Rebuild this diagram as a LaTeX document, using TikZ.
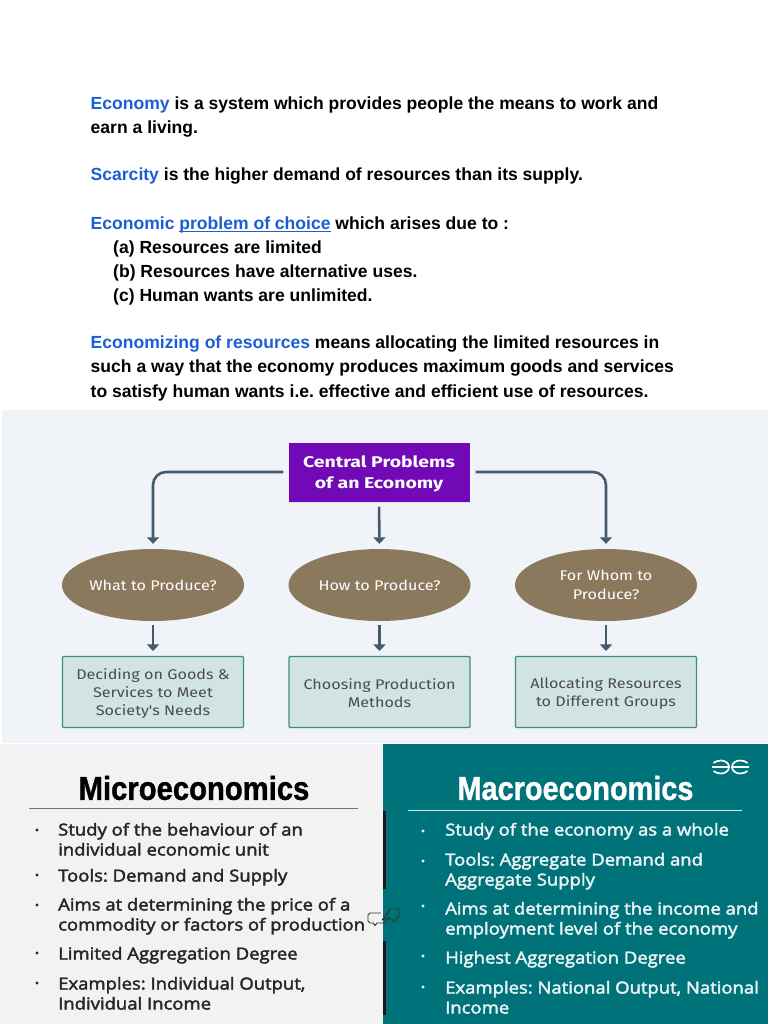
\documentclass[tikz,border=0pt]{standalone}
\usepackage{fontspec}
\usetikzlibrary{shapes.geometric,arrows.meta,shadows}
\setmainfont{Liberation Sans}
\newfontfamily\din[FakeStretch=1.155]{Fira Sans}
\newfontfamily\dinb[FakeStretch=1.255]{Fira Sans}
\newfontfamily\clear[FakeBold=2.5,FakeStretch=1.12]{Open Sans}
\newfontfamily\heavy[BoldFeatures={FakeBold=1.2}]{Liberation Sans}
\newcommand\lineunder[1]{\setbox0\hbox{#1}\rlap{\rule[-2.2pt]{\wd0}{1pt}}\box0}
\AtBeginDocument{\frenchspacing}
\definecolor{linkblue}{HTML}{1C5FD4}
\definecolor{diagbg}{HTML}{F0F3F7}
\definecolor{rootpurple}{HTML}{7209B7}
\definecolor{ovalbrown}{HTML}{8B795E}
\definecolor{boxfill}{HTML}{D2E4E1}
\definecolor{boxline}{HTML}{3A8F7D}
\definecolor{arrowslate}{HTML}{455A6B}
\definecolor{leftbg}{HTML}{F2F2F2}
\definecolor{teal}{HTML}{00737A}
\tikzset{
 body/.style={anchor=base west,inner sep=0,font=\fontsize{17.55}{18}\selectfont\bfseries,text=black},
 rootbox/.style={rectangle,fill=rootpurple,minimum width=181pt,minimum height=59pt,inner sep=0,align=center,text=white,font=\dinb\fontsize{15.5}{21}\selectfont\bfseries},
 oval/.style={ellipse,fill=ovalbrown,minimum width=182pt,minimum height=72pt,inner sep=0,align=center,text=white,font=\din\fontsize{14}{18.5}\selectfont},
 leaf/.style={rectangle,rounded corners=1pt,draw=boxline,line width=1.1pt,fill=boxfill,minimum width=181pt,minimum height=71pt,inner sep=0,align=center,text=black!70,font=\din\fontsize{14}{18}\selectfont},
 flow/.style={draw=arrowslate,line width=2.6pt,-{Triangle[length=6.5pt,width=12pt]},rounded corners=13pt},
 lefttxt/.style={anchor=base west,inner sep=0,text=black!85,font=\clear\fontsize{16.5}{18}\selectfont},
 righttxt/.style={anchor=base west,inner sep=0,text=white!92!teal,font=\clear\fontsize{16.5}{18}\selectfont},
 ltitle/.style={inner sep=0,font=\heavy\fontsize{33}{36}\selectfont\bfseries,text=black,xscale=.886},
 rtitle/.style={inner sep=0,font=\heavy\fontsize{33}{36}\selectfont\bfseries,text=white,xscale=.875},
}
\begin{document}
\begin{tikzpicture}[x=1pt,y=-1pt]
\useasboundingbox (0,0) rectangle (768,1024);
\fill[white] (0,0) rectangle (768,1024);
% top text
\node[body] (t1) at (90.5,109.7) {\textcolor{linkblue}{Economy} is a system which provides people the means to work and};
\node[body] (t2) at (90.5,133.5) {earn a living.};
\node[body] (t3) at (90.5,181) {\textcolor{linkblue}{Scarcity} is the higher demand of resources than its supply.};
\node[body] (t4) at (90.5,229.5) {\textcolor{linkblue}{Economic \lineunder{problem of choice}} which arises due to :};
\node[body] (t5) at (113,253) {(a) Resources are limited};
\node[body] (t6) at (113,277) {(b) Resources have alternative uses.};
\node[body] (t7) at (113,301) {(c) Human wants are unlimited.};
\node[body] (t8) at (90.5,348.5) {\textcolor{linkblue}{Economizing of resources} means allocating the limited resources in};
\node[body] (t9) at (90.5,372.5) {such a way that the economy produces maximum goods and services};
\node[body] (t10) at (90.5,397) {to satisfy human wants i.e. effective and efficient use of resources.};
% diagram
\fill[diagbg] (2,410) rectangle (768,743);
\node[rootbox,drop shadow={opacity=.15,shadow xshift=0pt,shadow yshift=-1pt}] (root) at (379,472) {\rule{0pt}{15pt}Central Problems\\of an Economy};
\node[oval] (e1) at (153,585) {What to Produce?};
\node[oval] (e2) at (379.5,585) {How to Produce?};
\node[oval] (e3) at (606,585) {For Whom to\\Produce?};
\node[leaf] (b1) at (153,692) {\rule{0pt}{13pt}Deciding on Goods \&\\Services to Meet\\Society's Needs};
\node[leaf] (b2) at (379.5,692) {\rule{0pt}{13pt}Choosing Production\\Methods};
\node[leaf] (b3) at (606,692) {\rule{0pt}{13pt}Allocating Resources\\to Different Groups};
\draw[flow,shorten <=5pt,shorten >=5pt] (root.west) -| (e1.north);
\draw[flow,shorten <=6pt,shorten >=5pt] (root.east) -| (e3.north);
\draw[flow,shorten <=5pt,shorten >=5pt] (root.south) -- (e2.north);
\draw[flow,shorten <=4pt,shorten >=5pt] (e1) -- (b1);
\draw[flow,shorten <=4pt,shorten >=5pt] (e2) -- (b2);
\draw[flow,shorten <=4pt,shorten >=5pt] (e3) -- (b3);
% bottom panels
\fill[leftbg] (0,744) rectangle (383,1024);
\fill[teal] (383,744) rectangle (768,1024);
\fill[black!90] (383,811) rectangle (386,889);
\fill[black!90] (383,941) rectangle (386,1015);
\node[ltitle] (lt) at (194,788) {Microeconomics};
\node[rtitle] (rt) at (575.5,788) {Macroeconomics};
\draw[black!55,line width=1pt] (29,808) -- (358,808);
\draw[white!85!teal,line width=1pt] (408,810) -- (742,810);
\foreach \y in {830,875,905,953,983} \fill[black!85] (37,\y) circle (1.7);
\foreach \y in {831,861,906,956,987} \fill[white] (423,\y) circle (1.7);
\node[lefttxt] (l1) at (58,835.5) {Study of the behaviour of an};
\node[lefttxt] (l2) at (58,855.5) {individual economic unit};
\node[lefttxt] (l3) at (58,881.5) {Tools: Demand and Supply};
\node[lefttxt] (l4) at (58,910.5) {Aims at determining the price of a};
\node[lefttxt] (l5) at (58,930.5) {commodity or factors of production};
\node[lefttxt] (l6) at (58,959.5) {Limited Aggregation Degree};
\node[lefttxt] (l7) at (58,989.5) {Examples: Individual Output,};
\node[lefttxt] (l8) at (58,1009.5) {Individual Income};
\node[righttxt] (r1) at (445,835.5) {Study of the economy as a whole};
\node[righttxt] (r2) at (445,865.5) {Tools: Aggregate Demand and};
\node[righttxt] (r3) at (445,885.5) {Aggregate Supply};
\node[righttxt] (r4) at (445,914.5) {Aims at determining the income and};
\node[righttxt] (r5) at (445,934.5) {employment level of the economy};
\node[righttxt] (r6) at (445,963.5) {Highest Aggregation Degree};
\node[righttxt] (r7) at (445,993.5) {Examples: National Output, National};
\node[righttxt] (r8) at (445,1013.5) {Income};
% logo
\draw[white,line width=1.7pt] (712,767) -- (729,767) .. controls (729,763) and (725,760.5) .. (721,760.5) .. controls (718,760.5) and (715,761.5) .. (713.5,763);
\draw[white,line width=1.7pt] (729,767) .. controls (729,771) and (725,773.5) .. (721,773.5) .. controls (718,773.5) and (715,772.5) .. (713.5,771);
\draw[white,line width=1.7pt] (749,767) -- (732,767) .. controls (732,763) and (736,760.5) .. (740,760.5) .. controls (743,760.5) and (746,761.5) .. (747.5,763);
\draw[white,line width=1.7pt] (732,767) .. controls (732,771) and (736,773.5) .. (740,773.5) .. controls (743,773.5) and (746,772.5) .. (747.5,771);
% chat icon
\draw[black!80,line width=.9pt,line join=round] (381,913) -- (370,913) -- (368,915) -- (368,921) -- (370,923) -- (373,923) -- (375,925.5) -- (377,923) -- (384,923);
\draw[black!80,line width=.9pt,line join=round] (388,913) -- (382,920) -- (390,917) -- (384,923);
\draw[black!80,line width=.9pt,line join=round] (387,914) -- (390,909) -- (399,909) -- (399,917) -- (396,919) -- (394,922) -- (392,919) -- (389,919);
\end{tikzpicture}
\end{document}
